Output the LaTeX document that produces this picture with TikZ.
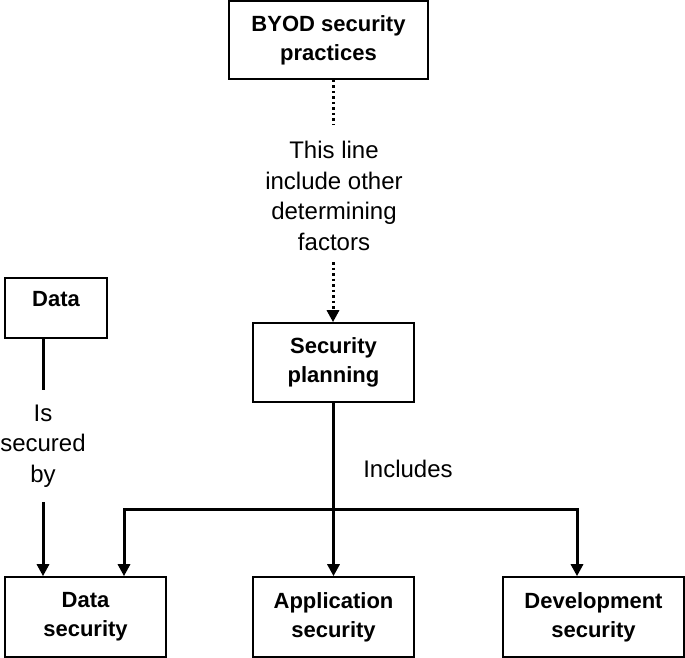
\documentclass[tikz,border=0pt]{standalone}
\usepackage{fontspec}
\setmainfont{Liberation Sans}
\usetikzlibrary{arrows.meta}
\begin{document}
\begin{tikzpicture}[x=1pt,y=-1pt,
 box/.style={draw, line width=1.6pt, align=center, font=\fontsize{22}{29}\selectfont\bfseries, inner sep=0pt},
 lbl/.style={align=center, font=\fontsize{24}{30.5}\selectfont, inner sep=0pt},
 conn/.style={line width=3pt},
 arr/.style={line width=3pt, -{Triangle[width=12pt,length=12pt]}},
 dots/.style={line width=3pt, dash pattern=on 2.5pt off 3pt}]
\useasboundingbox (0,0) rectangle (685,658);
\node[box, minimum width=199pt, minimum height=78pt] (byod) at (328.5,40) {BYOD security\\practices};
\node[box, minimum width=161pt, minimum height=79pt] (sp) at (333.5,362.5) {Security\\planning};
\node[box, minimum width=102pt, minimum height=60pt] (data) at (56,308) {\raisebox{18pt}{Data}};
\node[box, minimum width=161pt, minimum height=80pt] (ds) at (85.5,617) {Data\\security};
\node[box, minimum width=161pt, minimum height=80pt] (as) at (333.5,617) {Application\\security};
\node[box, minimum width=181pt, minimum height=80pt] (dev) at (593.5,617) {Development\\security};
\node[lbl] (l1) at (334,196) {This line\\include other\\determining\\factors};
\node[lbl] (l2) at (408,469) {Includes};
\node[lbl] (l3) at (43,446) {Is\\secured\\by};
\coordinate (d1) at (333,125);
\coordinate (d2) at (333,262);
\coordinate (c1) at (43,390);
\coordinate (c2) at (43,502);
\coordinate (h1) at (124,509);
\coordinate (h2) at (577,509);
\draw[dots] (byod.south -| d1) -- (d1);
\draw[dots, -{Triangle[width=12pt,length=12pt]}] (d2) -- (sp.north -| d2);
\draw[conn] (data.south -| c1) -- (c1);
\draw[arr] (c2) -- (ds.north -| c2);
\draw[arr] (sp.south) -- (as.north);
\draw[conn, line cap=rect] (h1) -- (h2);
\draw[arr] (h1) -- (ds.north -| h1);
\draw[arr] (h2) -- (dev.north -| h2);
\end{tikzpicture}
\end{document}
